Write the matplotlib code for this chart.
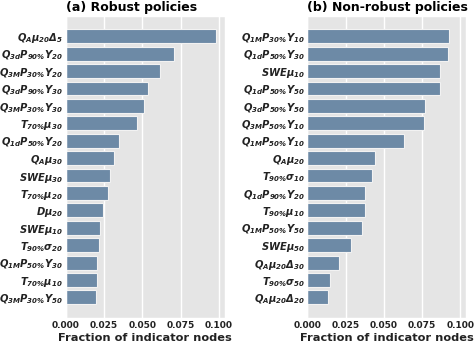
import matplotlib
matplotlib.use("Agg")
import matplotlib.pyplot as plt

plt.style.use("ggplot")
plt.rcParams["mathtext.fontset"] = "custom"
plt.rcParams["mathtext.it"] = "DejaVu Sans:italic:bold"
plt.rcParams["mathtext.rm"] = "DejaVu Sans:italic:bold"
plt.rcParams["mathtext.bf"] = "DejaVu Sans:italic:bold"
plt.rcParams["mathtext.default"] = "it"

# Robust policies (top to bottom)
robust_labels = [
    r"$Q_{A}\mu_{20}\Delta_{5}$",
    r"$Q_{3d}P_{90\%}Y_{20}$",
    r"$Q_{3M}P_{30\%}Y_{20}$",
    r"$Q_{3d}P_{90\%}Y_{30}$",
    r"$Q_{3M}P_{30\%}Y_{30}$",
    r"$T_{70\%}\mu_{30}$",
    r"$Q_{1d}P_{50\%}Y_{20}$",
    r"$Q_{A}\mu_{30}$",
    r"$SWE\mu_{30}$",
    r"$T_{70\%}\mu_{20}$",
    r"$D\mu_{20}$",
    r"$SWE\mu_{10}$",
    r"$T_{90\%}\sigma_{20}$",
    r"$Q_{1M}P_{50\%}Y_{30}$",
    r"$T_{70\%}\mu_{10}$",
    r"$Q_{3M}P_{30\%}Y_{50}$",
]
robust_values = [0.0982, 0.0710, 0.0617, 0.0537, 0.0511, 0.0465, 0.0348, 0.0312,
                 0.0286, 0.0277, 0.0244, 0.0223, 0.0214, 0.0201, 0.0201, 0.0195]

# Non-robust policies (top to bottom)
nonrobust_labels = [
    r"$Q_{1M}P_{30\%}Y_{10}$",
    r"$Q_{1d}P_{50\%}Y_{30}$",
    r"$SWE\mu_{10}$",
    r"$Q_{1d}P_{50\%}Y_{50}$",
    r"$Q_{3d}P_{50\%}Y_{50}$",
    r"$Q_{3M}P_{50\%}Y_{10}$",
    r"$Q_{1M}P_{50\%}Y_{10}$",
    r"$Q_{A}\mu_{20}$",
    r"$T_{90\%}\sigma_{10}$",
    r"$Q_{1d}P_{90\%}Y_{20}$",
    r"$T_{90\%}\mu_{10}$",
    r"$Q_{1M}P_{50\%}Y_{50}$",
    r"$SWE\mu_{50}$",
    r"$Q_{A}\mu_{20}\Delta_{30}$",
    r"$T_{90\%}\sigma_{50}$",
    r"$Q_{A}\mu_{20}\Delta_{20}$",
]
nonrobust_values = [0.0927, 0.0917, 0.0865, 0.0865, 0.0769, 0.0760, 0.0632, 0.0440,
                    0.0420, 0.0378, 0.0378, 0.0357, 0.0284, 0.0209, 0.0145, 0.0135]

bar_color = "#6d8aa6"
xticks = [0.0, 0.025, 0.05, 0.075, 0.1]

fig, axes = plt.subplots(1, 2, figsize=(4.74, 3.45), dpi=100)
fig.subplots_adjust(left=0.139, right=0.984, top=0.955, bottom=0.078, wspace=0.52)

panels = [
    (axes[0], robust_labels, robust_values, "(a) Robust policies"),
    (axes[1], nonrobust_labels, nonrobust_values, "(b) Non-robust policies"),
]
for ax, labels, values, title in panels:
    pos = list(range(len(labels)))
    ax.barh(pos, values, height=0.8, color=bar_color, edgecolor="#f2f2f2", linewidth=0.8)
    ax.set_yticks(pos)
    ax.set_yticklabels(labels, fontsize=7.2)
    ax.invert_yaxis()
    ax.set_xlim(0, 0.104)
    ax.set_xticks(xticks)
    ax.set_xticklabels(["%.3f" % t for t in xticks], fontsize=6.5, fontweight="bold", color="#222222")
    ax.set_xlabel("Fraction of indicator nodes", fontsize=8.2, fontweight="bold", color="#222222", labelpad=2)
    ax.set_title(title, fontsize=9, fontweight="bold", pad=3, loc="left")
    ax.tick_params(axis="both", length=0, pad=2)
    ax.tick_params(axis="y", colors="#222222")
    ax.grid(axis="y", visible=False)
    ax.grid(axis="x", color="white", linewidth=1.0)
    ax.set_facecolor("#e5e5e5")

fig.savefig("out.png", dpi=100)
